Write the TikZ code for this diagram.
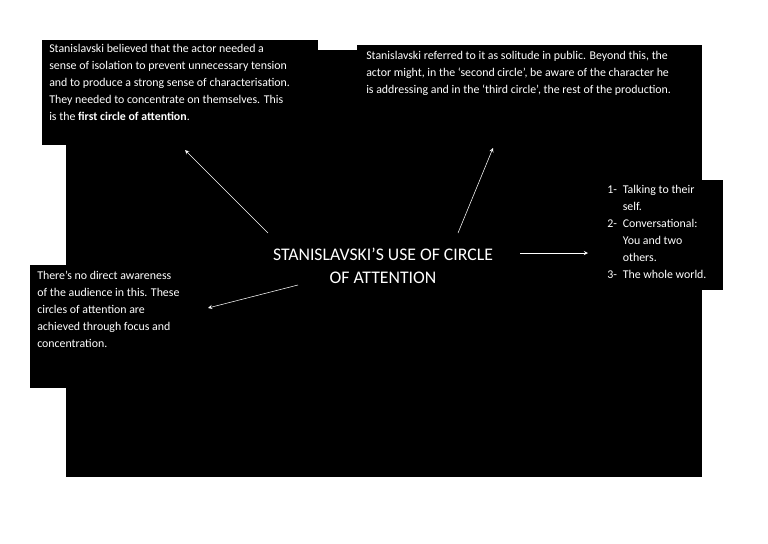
\documentclass[tikz,border=0pt]{standalone}
\usepackage{fontspec}
\setmainfont{Carlito}
\usetikzlibrary{positioning}

\tikzset{
  note/.style={align=left, text=white, font=\fontsize{8.9}{12.8}\selectfont, inner sep=0pt},
  pointer/.style={->, white, thin, >=stealth}
}

\begin{document}
\begin{tikzpicture}[x=0.75pt, y=-0.75pt]

%Page
\fill[white] (0,0) rectangle (768,543);
\useasboundingbox (0,0) rectangle (768,543);

%Black panels
\fill[black] (66,50) rectangle (702,477);
\fill[black] (42,40) rectangle (318,145);
\fill[black] (357,45) rectangle (702,105);
\fill[black] (30,265) rectangle (200,388);
\fill[black] (600,180) rectangle (723,290);

% Texts
\node[note, anchor=north west] (first) at (49,44) {Stanislavski believed that the actor needed a\\sense of isolation to prevent unnecessary tension\\and to produce a strong sense of characterisation.\\They needed to concentrate on themselves. This\\is the \textbf{first circle of attention}.};
\node[note, anchor=north west] (solitude) at (366,51) {Stanislavski referred to it as solitude in public. Beyond this, the\\actor might, in the `second circle', be aware of the character he\\is addressing and in the `third circle', the rest of the production.};
\node[note, anchor=north west] (aware) at (37,271) {There's no direct awareness\\of the audience in this. These\\circles of attention are\\achieved through focus and\\concentration.};
\node[note, anchor=north west] (list) at (607,185) {1-\enspace Talking to their\\\phantom{1-\enspace}self.\\2-\enspace Conversational:\\\phantom{1-\enspace}You and two\\\phantom{1-\enspace}others.\\3-\enspace The whole world.};

\node[align=center, text=white, font=\fontsize{13.3}{17}\selectfont, inner sep=0pt] (title) at (383,266) {STANISLAVSKI'S USE OF CIRCLE\\OF ATTENTION};

% Arrow ends
\coordinate (e1) at (185,150);
\coordinate (e2) at (493,148);
\coordinate (e3) at (588,253);
\coordinate (e4) at (208,308);
\coordinate (s1) at (268,233);
\coordinate (s2) at (458,233);
\coordinate (s3) at (520,253);
\coordinate (s4) at (298,285);

\foreach \from/\to in {s1/e1, s2/e2, s3/e3, s4/e4}
\draw[pointer] (\from) -- (\to);

\end{tikzpicture}
\end{document}
